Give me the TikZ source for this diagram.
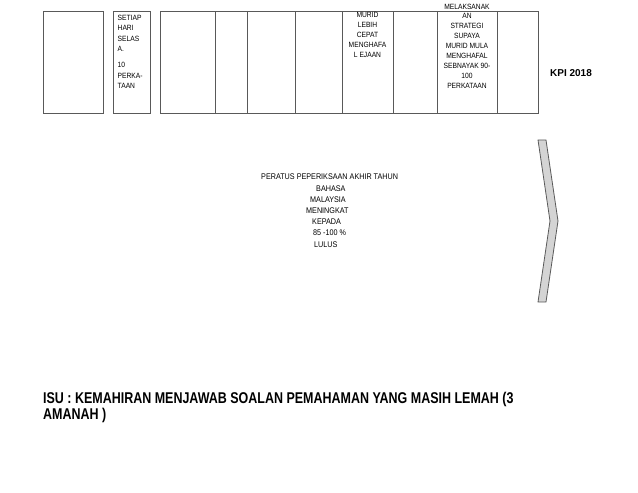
\documentclass[tikz,border=0pt]{standalone}
\usepackage{fontspec}
\setmainfont{Liberation Sans}
\newfontfamily\narrowfont[FakeStretch=0.88]{Liberation Sans}
\newfontfamily\isufont[FakeStretch=0.8]{Liberation Sans Bold}
\usetikzlibrary{positioning}

\begin{document}
\begin{tikzpicture}[x=1bp,y=-1bp,
  cell/.style={rectangle,draw=black!65,line width=0.8bp,minimum height=102bp,
    inner sep=0pt,outer sep=0pt,anchor=north west},
  cell text/.style={font=\narrowfont\fontsize{7.6bp}{9.9bp}\selectfont,inner sep=0pt,align=center,anchor=north},
  chevron/.style={draw=black!65,fill=black!17,line width=0.8bp,line join=miter}]
  \useasboundingbox (0,0) rectangle (638,493);
  % boxes along the top
  \node[cell, minimum width=60bp] (blank) at (43,11) {};
  \node[cell, minimum width=37bp] (setiap) at (113,11) {};
  \node[cell, minimum width=55bp] (c1) at (160,11) {};
  \node[cell, minimum width=32bp] (c2) [right=0pt of c1] {};
  \node[cell, minimum width=48bp] (c3) [right=0pt of c2] {};
  \node[cell, minimum width=47bp] (c4) [right=0pt of c3] {};
  \node[cell, minimum width=51bp] (murid) [right=0pt of c4] {};
  \node[cell, minimum width=44bp] (c6) [right=0pt of murid] {};
  \node[cell, minimum width=60bp] (strategi) [right=0pt of c6] {};
  \node[cell, minimum width=41bp] (c8) [right=0pt of strategi] {};
  \node[cell text, anchor=north west, align=left, font=\narrowfont\fontsize{7.6bp}{10.6bp}\selectfont]
    (setiapText) at ([xshift=4.5bp,yshift=-3.5bp]setiap.north west)
    {SETIAP\\HARI\\SELAS\\A.\\[5bp]10\\PERKA-\\TAAN};
  \node[cell text] (muridText) at ([yshift=-1.5bp]murid.north)
    {MURID\\LEBIH\\CEPAT\\MENGHAFA\\L EJAAN};
  \node[cell text] (strategiText) at ([yshift=7.5bp]strategi.north)
    {MELAKSANAK\\AN\\STRATEGI\\SUPAYA\\MURID MULA\\MENGHAFAL\\SEBNAYAK 90-\\100\\PERKATAAN};
  \node[font=\bfseries\fontsize{10bp}{12bp}\selectfont, inner sep=0pt] (kpi) at (571,73) {KPI 2018};
  % target in the middle
  \node[anchor=north west, inner sep=0pt, align=left, font=\narrowfont\fontsize{8.2bp}{11.2bp}\selectfont]
    (peratus) at (261,174)
    {PERATUS PEPERIKSAAN AKHIR TAHUN\\
     \hspace*{55bp}BAHASA\\
     \hspace*{49bp}MALAYSIA\\
     \hspace*{45bp}MENINGKAT\\
     \hspace*{51bp}KEPADA\\
     \hspace*{52bp}85 -100 \%\\
     \hspace*{53bp}LULUS};
  \draw[chevron] (538,140) -- (546,140) -- (558,221) -- (546,302) -- (538,302) -- (550,221) -- cycle;
  % issue line
  \node[anchor=north west, inner sep=0pt, align=left, font=\isufont\fontsize{15.6bp}{16bp}\selectfont]
    (isu) at (43,392)
    {ISU : KEMAHIRAN MENJAWAB SOALAN PEMAHAMAN YANG MASIH LEMAH (3\\AMANAH )};
\end{tikzpicture}
\end{document}
